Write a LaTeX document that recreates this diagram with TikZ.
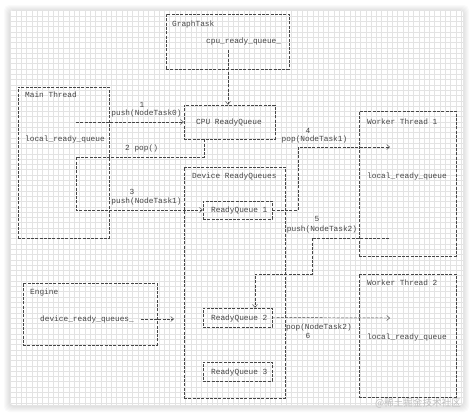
\documentclass[tikz,border=0pt]{standalone}
\usepackage{fontspec}
\setmonofont{Liberation Mono}
\newfontfamily\cjkfont{Noto Sans CJK SC}
\usepackage{xcolor}
\usetikzlibrary{positioning}
\usetikzlibrary{arrows.meta}

\definecolor{asciigray}{HTML}{474747}
\definecolor{gridgray}{HTML}{E3E3E3}

\begin{document}
\begin{tikzpicture}[x=1pt, y=-1pt,
  ascii/.style={draw=asciigray, line width=0.45pt, dash pattern=on 3pt off 1.3pt},
  box/.style={ascii, rectangle, inner sep=0pt},
  txt/.style={font=\ttfamily\fontsize{7.8}{9}\selectfont, text=asciigray, inner sep=0pt},
  conn/.style={ascii, -{Straight Barb[length=3pt,width=5pt]}}]
\useasboundingbox (0,0) rectangle (474,416);
% panel with shadow and grid
\foreach \s in {1,...,6}
  \fill[black, opacity=0.02, rounded corners=5pt] (10-\s,10-\s+1) rectangle (463+\s,405+\s+1);
\fill[white, rounded corners=3pt] (10,10) rectangle (463,405);
\begin{scope}
\clip[rounded corners=3pt] (10,10) rectangle (463,405);
\draw[gridgray, line width=0.35pt, step=5.3pt] (10,10) grid (463,405);
\end{scope}
% boxes
\node[box, minimum width=123pt, minimum height=55pt] (graphtask) at (227.5,41.5) {};
\node[box, minimum width=91pt, minimum height=151pt] (mainthread) at (63.5,162.5) {};
\node[box, minimum width=91pt, minimum height=34pt] (cpuqueue) at (229.5,122) {};
\node[box, minimum width=101pt, minimum height=231pt] (devqueues) at (234.5,282.5) {};
\node[box, minimum width=69pt, minimum height=18pt] (rq1) at (237.5,210) {};
\node[box, minimum width=69pt, minimum height=19pt] (rq2) at (237.5,317.5) {};
\node[box, minimum width=69pt, minimum height=19pt] (rq3) at (237.5,371.5) {};
\node[box, minimum width=97pt, minimum height=145pt] (worker1) at (407.5,183.5) {};
\node[box, minimum width=97pt, minimum height=123pt] (worker2) at (407.5,335.5) {};
\node[box, minimum width=134pt, minimum height=62pt] (engine) at (90,314) {};
% box texts
\node[txt, anchor=base west] (gtname) at (172,26.7) {GraphTask};
\node[txt, anchor=base west] (gtcpu) at (206,43.7) {cpu\_ready\_queue\_};
\node[txt, anchor=base west] (mtname) at (25,97.7) {Main Thread};
\node[txt, anchor=base west] (mtlocal) at (25,141.7) {local\_ready\_queue};
\node[txt, anchor=base west] (cpuname) at (196,124.7) {CPU ReadyQueue};
\node[txt, anchor=base west] (devname) at (192,178.7) {Device ReadyQueues};
\node[txt, anchor=base west] (rq1name) at (211,212.7) {ReadyQueue 1};
\node[txt, anchor=base west] (rq2name) at (211,320.7) {ReadyQueue 2};
\node[txt, anchor=base west] (rq3name) at (211,374.2) {ReadyQueue 3};
\node[txt, anchor=base west] (w1name) at (367,124.7) {Worker Thread 1};
\node[txt, anchor=base west] (w1local) at (367,178.7) {local\_ready\_queue};
\node[txt, anchor=base west] (w2name) at (367,285.7) {Worker Thread 2};
\node[txt, anchor=base west] (w2local) at (367,339.7) {local\_ready\_queue};
\node[txt, anchor=base west] (engname) at (30,294.7) {Engine};
\node[txt, anchor=base west] (engdev) at (40,321.7) {device\_ready\_queues\_};
% end points
\coordinate (gtout) at (228,50);
\coordinate (mtout) at (76,122);
\coordinate (popturn) at (204,157);
\coordinate (turn4) at (298,147);
\coordinate (w1in) at (390,147);
\coordinate (w1out) at (389,238);
\coordinate (turn5) at (312,274);
\coordinate (rq2in) at (255,274);
\coordinate (w2in) at (390,318);
\coordinate (engout) at (141,319);
\coordinate (engin) at (174,319);
% arrows
\draw[conn] (gtout) -- (gtout |- cpuqueue.north);
\draw[conn] (mtout) -- (cpuqueue.west);
\draw[conn] (popturn |- cpuqueue.south) -- (popturn) -- (mtout |- popturn) -- (mtout |- rq1.west) -- (rq1.west);
\draw[conn] (rq1.east) -- (rq1.east -| turn4) -- (turn4) -- (w1in);
\draw[conn] (w1out) -- (w1out -| turn5) -- (turn5) -- (rq2in) -- (rq2in |- rq2.north);
\draw[conn] (rq2.east) -- (w2in);
\draw[conn] (engout) -- (engin);
% arrow labels
\node[txt, anchor=base] (n1) at (142,107.7) {1};
\node[txt, anchor=base] (push0) at (146.5,115.7) {push(NodeTask0)};
\node[txt, anchor=base west] (pop2) at (125,150.7) {2 pop()};
\node[txt, anchor=base] (n3) at (132,194.7) {3};
\node[txt, anchor=base] (push1) at (146.5,203.7) {push(NodeTask1)};
\node[txt, anchor=base] (n4) at (308,133.2) {4};
\node[txt, anchor=base] (pop1) at (314.5,141.7) {pop(NodeTask1)};
\node[txt, anchor=base] (n5) at (317,221.7) {5};
\node[txt, anchor=base] (push2) at (322,231.2) {push(NodeTask2)};
\node[txt, anchor=base] (pop2b) at (319,329.7) {pop(NodeTask2)};
\node[txt, anchor=base] (n6) at (308,338.7) {6};
% watermark
\node[font=\cjkfont\fontsize{9.6}{10}\selectfont, text=gray!50, inner sep=0pt] (mark) at (418,403) {@稀土掘金技术社区};
\end{tikzpicture}
\end{document}
